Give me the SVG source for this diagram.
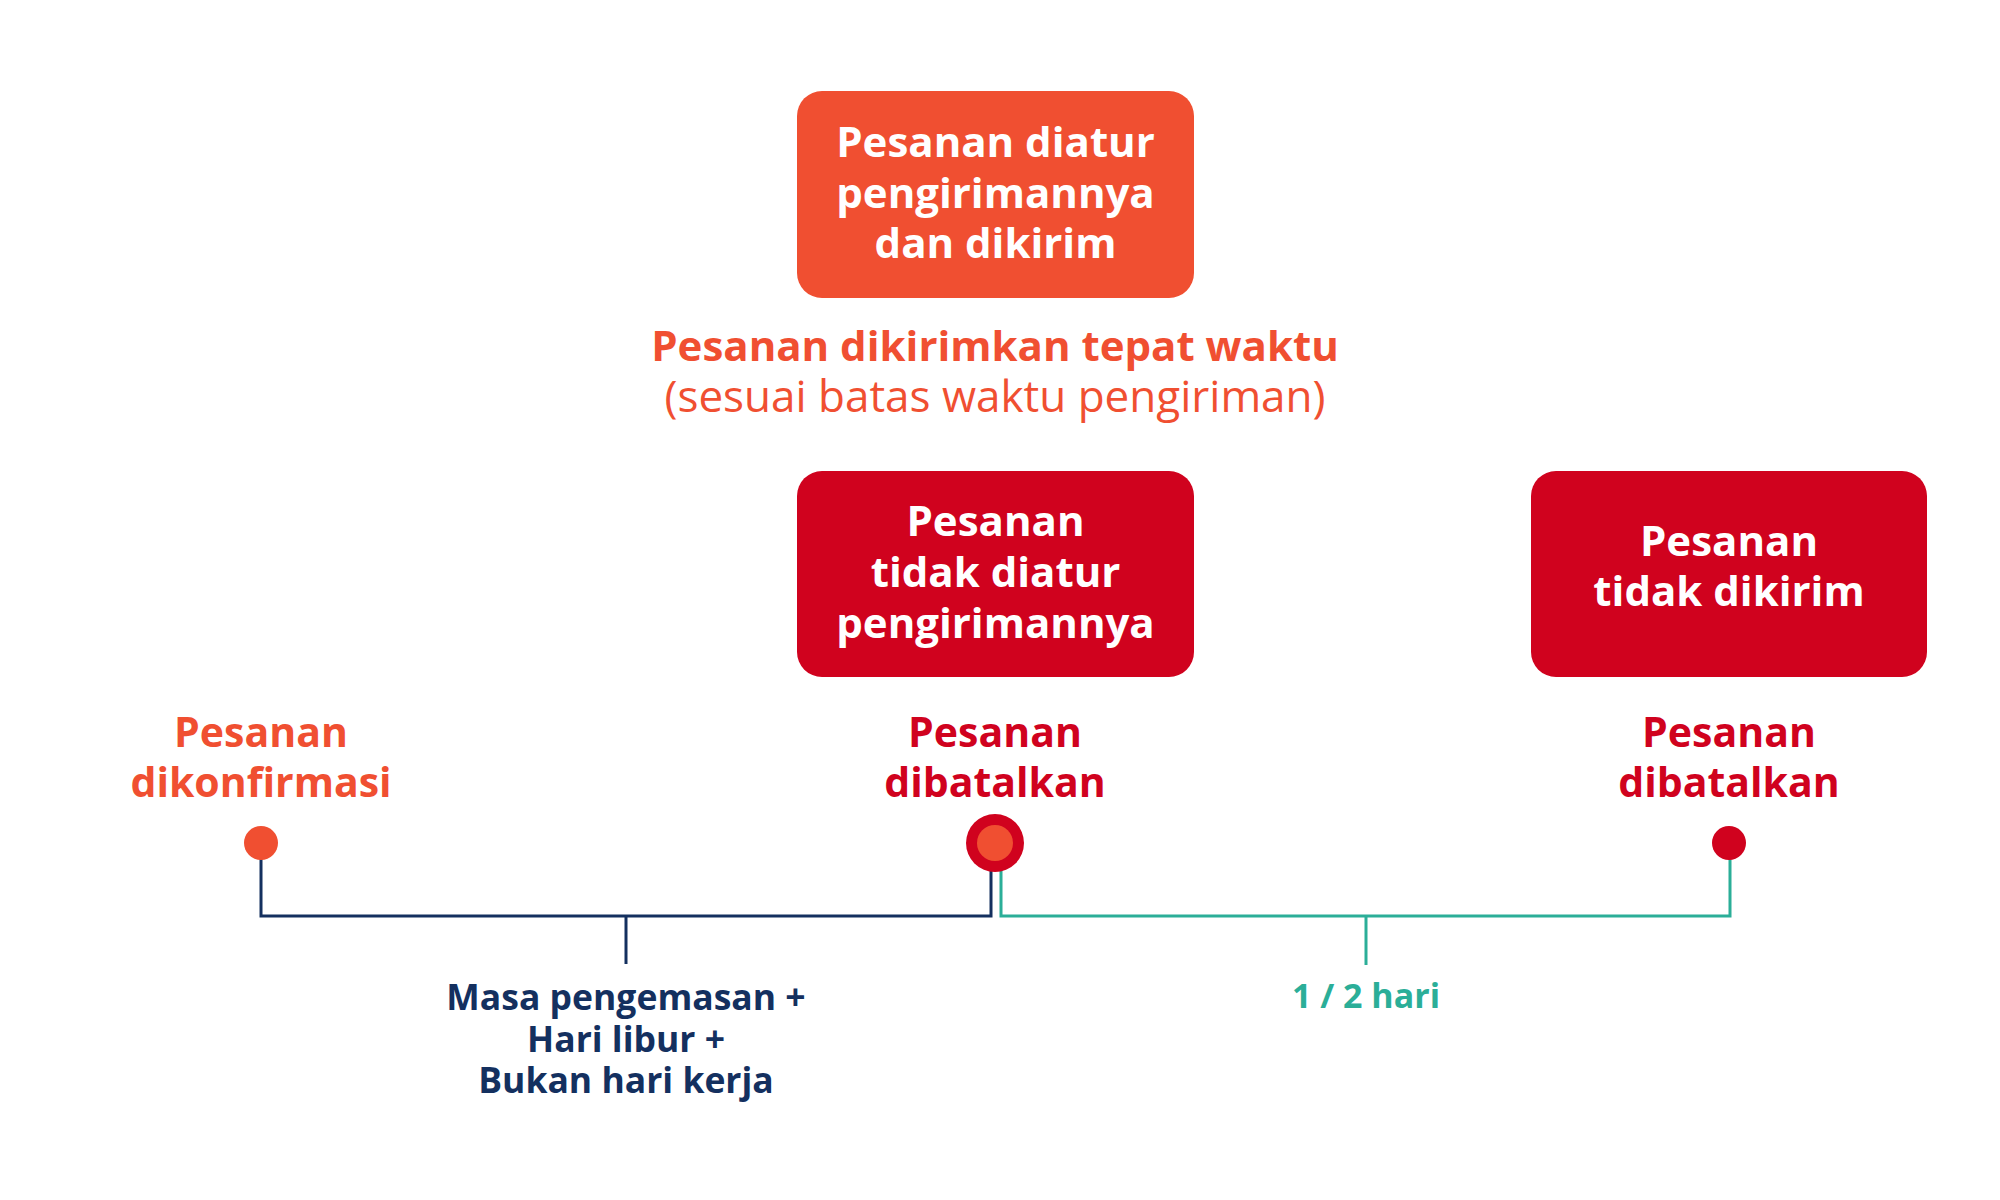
<svg xmlns="http://www.w3.org/2000/svg" width="2000" height="1200" viewBox="0 0 2000 1200">
<style>
.t{font-family:"Open Sans","Noto Sans","Liberation Sans",sans-serif;text-anchor:middle}
.b{font-weight:700}
.w{fill:#ffffff}
.o{fill:#F04F31}
.r{fill:#D0021E}
.n{fill:#14305F}
.g{fill:#2BAE98}
.box-o{fill:#F04F31}
.box-r{fill:#D0021E}
</style>
<rect width="2000" height="1200" fill="#ffffff"/>
<g id="connectors" fill="none" stroke-width="3">
  <path d="M261 843 V916 H991 V860" stroke="#14305F"/>
  <path d="M626 916 V964" stroke="#14305F"/>
  <path d="M1001 860 V916 H1730 V843" stroke="#2BAE98"/>
  <path d="M1366 916 V965" stroke="#2BAE98"/>
</g>
<g id="box-shipped">
  <rect class="box-o" x="797" y="91" width="397" height="207" rx="25"/>
  <text class="t b w" font-size="42" x="995.5" y="157">Pesanan diatur</text>
  <text class="t b w" font-size="42" x="995.5" y="208">pengirimannya</text>
  <text class="t b w" font-size="42" x="995.5" y="258">dan dikirim</text>
</g>
<g id="on-time">
  <text class="t b o" font-size="42" x="995" y="361">Pesanan dikirimkan tepat waktu</text>
  <text class="t o" font-size="44" x="995" y="412">(sesuai batas waktu pengiriman)</text>
</g>
<g id="box-not-arranged">
  <rect class="box-r" x="797" y="471" width="397" height="206" rx="25"/>
  <text class="t b w" font-size="42" x="995.5" y="536">Pesanan</text>
  <text class="t b w" font-size="42" x="995.5" y="587">tidak diatur</text>
  <text class="t b w" font-size="42" x="995.5" y="638">pengirimannya</text>
</g>
<g id="box-not-shipped">
  <rect class="box-r" x="1531" y="471" width="396" height="206" rx="25"/>
  <text class="t b w" font-size="42" x="1729" y="556">Pesanan</text>
  <text class="t b w" font-size="42" x="1729" y="606">tidak dikirim</text>
</g>
<g id="confirmed">
  <text class="t b o" font-size="41" x="261" y="747">Pesanan</text>
  <text class="t b o" font-size="41" x="261" y="797">dikonfirmasi</text>
  <circle cx="261" cy="843" r="17" fill="#F04F31"/>
</g>
<g id="cancelled-1">
  <text class="t b r" font-size="41" x="995" y="747">Pesanan</text>
  <text class="t b r" font-size="41" x="995" y="797">dibatalkan</text>
  <circle cx="995" cy="843" r="29" fill="#D0021E"/>
  <circle cx="995" cy="843" r="18" fill="#F04F31"/>
</g>
<g id="cancelled-2">
  <text class="t b r" font-size="41" x="1729" y="747">Pesanan</text>
  <text class="t b r" font-size="41" x="1729" y="797">dibatalkan</text>
  <circle cx="1729" cy="843" r="17" fill="#D0021E"/>
</g>
<g id="label-packing">
  <text class="t b n" font-size="35.5" x="626" y="1010">Masa pengemasan +</text>
  <text class="t b n" font-size="35.5" x="626" y="1052">Hari libur +</text>
  <text class="t b n" font-size="35.5" x="626" y="1093">Bukan hari kerja</text>
</g>
<g id="label-days">
  <text class="t b g" font-size="34" x="1366" y="1008">1 / 2 hari</text>
</g>
</svg>
